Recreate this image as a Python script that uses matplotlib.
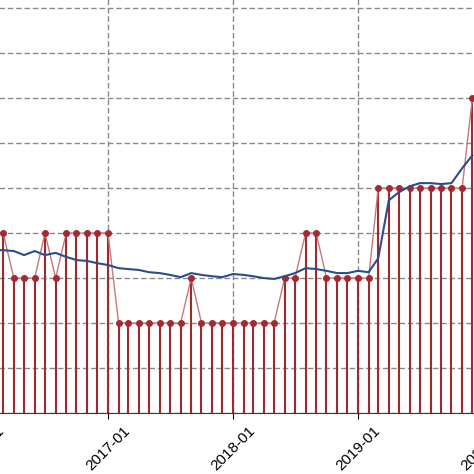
import matplotlib.pyplot as plt
import matplotlib.dates as mdates
import pandas as pd

plt.rcParams['font.family'] = ['Liberation Sans', 'DejaVu Sans']

# monthly data, 2016-02 .. 2019-12
months = pd.date_range('2016-02-01', periods=47, freq='MS')
stem_vals = [4, 4, 3, 3, 3, 4, 3, 4, 4, 4, 4,
             4, 2, 2, 2, 2, 2, 2, 2, 3, 2, 2, 2,
             2, 2, 2, 2, 2, 3, 3, 4, 4, 3, 3, 3,
             3, 3, 5, 5, 5, 5, 5, 5, 5, 5, 5, 7]
line_vals = [3.62, 3.62, 3.60, 3.51, 3.60, 3.51, 3.56, 3.47, 3.40, 3.38, 3.33,
             3.29, 3.22, 3.20, 3.18, 3.13, 3.11, 3.07, 3.02, 3.11, 3.07, 3.04, 3.02,
             3.09, 3.07, 3.04, 3.00, 2.98, 3.04, 3.11, 3.22, 3.20, 3.16, 3.11, 3.11,
             3.16, 3.13, 3.44, 4.73, 4.91, 5.04, 5.11, 5.11, 5.09, 5.11, 5.44, 5.73]
tick_dates = pd.to_datetime(['2016-01-01', '2017-01-01', '2018-01-01',
                             '2019-01-01', '2020-01-01'])

fig = plt.figure(figsize=(4.74, 4.74), dpi=100)
# axes deliberately larger than the figure (cropped view)
ax = fig.add_axes([-0.059, 0.1287, 1.1004, 0.949])

ax.vlines(months, 0, stem_vals, color='#9e2a2e', linewidth=1.5, zorder=3)
ax.plot(months, stem_vals, color='#c8777a', linewidth=1.0, zorder=3)
ax.plot(months, stem_vals, 'o', color='#a32a30', markersize=4, zorder=4)
ax.plot(months, line_vals, color='#2b4d8c', linewidth=1.5, zorder=5)

ax.set_xlim(pd.Timestamp('2015-12-01'), pd.Timestamp('2020-02-01'))
ax.set_ylim(0, 10)
ax.set_xticks(tick_dates)
ax.xaxis.set_major_formatter(mdates.DateFormatter('%Y-%m'))
ax.set_yticks(range(0, 11))
ax.tick_params(axis='x', labelsize=11, length=4, rotation=45)
ax.tick_params(axis='y', length=0, labelleft=False)

ax.grid(True, color='#8a8a8a', linestyle=(0, (4, 2)), linewidth=1.0)
ax.set_axisbelow(True)
for s in ['top', 'right', 'left']:
    ax.spines[s].set_visible(False)
ax.spines['bottom'].set_color('#3a3a3a')

fig.savefig('out.png', dpi=100)
